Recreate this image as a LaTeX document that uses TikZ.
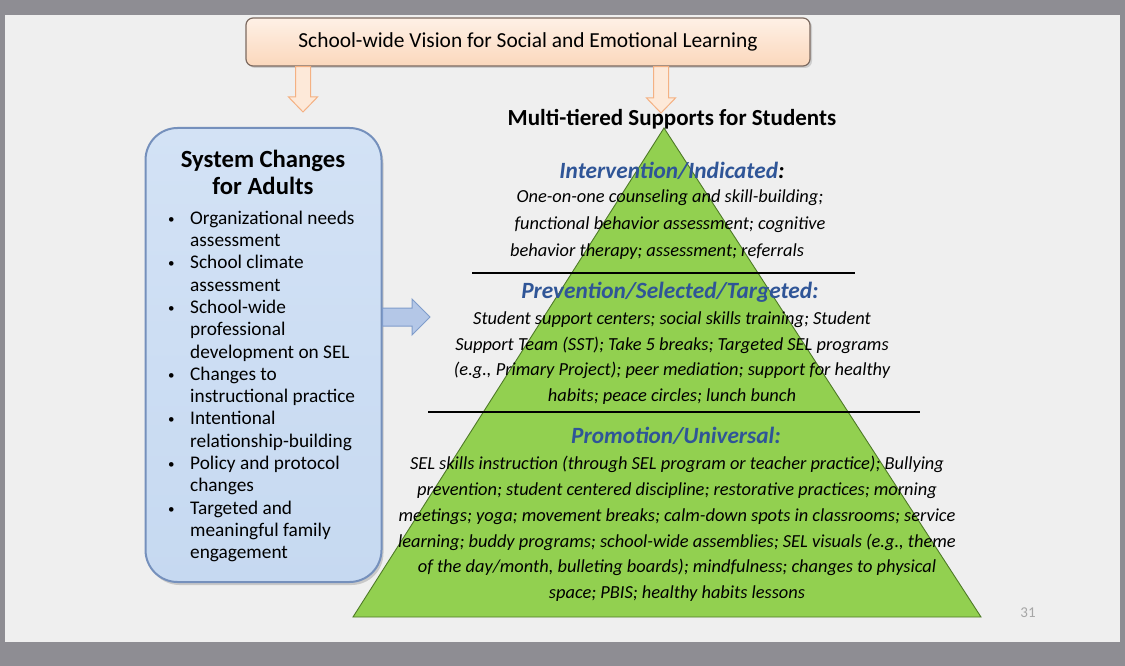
\documentclass[tikz,border=0pt]{standalone}
\usepackage{fontspec}
\setmainfont{Carlito}
\usetikzlibrary{calc,shadows}

\definecolor{framegray}{HTML}{8E8D93}
\definecolor{slidegray}{HTML}{EFEFEF}
\definecolor{peachtop}{HTML}{FEF0E6}
\definecolor{peachbot}{HTML}{FBD8BC}
\definecolor{visionedge}{HTML}{7C6A60}
\definecolor{arroworange}{HTML}{F4B183}
\definecolor{arrowpeach}{HTML}{FDE9D9}
\definecolor{boxblue}{HTML}{C6D9F1}
\definecolor{boxbluetop}{HTML}{D3E2F5}
\definecolor{boxedge}{HTML}{7590BC}
\definecolor{arrowblue}{HTML}{B4C7E7}
\definecolor{arrowblueedge}{HTML}{7F9CCB}
\definecolor{pyrgreen}{HTML}{92D050}
\definecolor{pyredge}{HTML}{4E7A27}
\definecolor{headblue}{HTML}{2F5597}

% fat block arrows: start point, tip
\newcommand{\fatdown}[3][]{%
  \draw[#1] ($(#2)+(-7.5,0)$) -- ($(#3)+(-7.5,-15)$) -- ($(#3)+(-14.5,-15)$) -- (#3)
    -- ($(#3)+(14.5,-15)$) -- ($(#3)+(7.5,-15)$) -- ($(#2)+(7.5,0)$) -- cycle;}
\newcommand{\fatright}[3][]{%
  \draw[#1] ($(#2)+(0,-9)$) -- ($(#3)+(-18,-9)$) -- ($(#3)+(-18,-18)$) -- (#3)
    -- ($(#3)+(-18,18)$) -- ($(#3)+(-18,9)$) -- ($(#2)+(0,9)$) -- cycle;}
\newcommand{\smallbullet}{\raisebox{1pt}{\fontsize{13}{13}\selectfont\textbullet}}

\tikzset{
  visionbox/.style={draw=visionedge, line width=1.2pt, rounded corners=7pt,
    top color=peachtop, bottom color=peachbot, minimum width=564, minimum height=48,
    font=\fontsize{21.4}{25}\selectfont,
    drop shadow={opacity=0.3, shadow xshift=2pt, shadow yshift=-2pt}},
  peacharrow/.style={draw=arroworange, fill=arrowpeach, line width=1pt, line join=miter},
  adultbox/.style={draw=boxedge, line width=2pt, rounded corners=32pt,
    top color=boxbluetop, bottom color=boxblue, minimum width=236, minimum height=454,
    drop shadow={opacity=0.35, shadow xshift=2pt, shadow yshift=-3pt}},
  bluearrow/.style={draw=arrowblueedge, fill=arrowblue, line width=1pt, line join=miter},
  pyramid/.style={fill=pyrgreen, draw=pyredge, line width=0.9pt, line join=miter},
  divider/.style={line width=2.4pt},
  headtext/.style={font=\fontsize{23.3}{27}\selectfont\bfseries\itshape, text=headblue, inner sep=0pt},
  bodytext/.style={font=\fontsize{18.4}{25.7}\selectfont\itshape, align=center, inner sep=0pt},
}

\begin{document}
\begin{tikzpicture}[x=1pt, y=-1pt]
  \useasboundingbox (0,0) rectangle (1125,666);
  \fill[framegray] (0,0) rectangle (1125,666);
  \fill[slidegray] (5,15) rectangle (1120,642);

  % top box and arrows down
  \node[visionbox] (vision) at (528,42) {School-wide Vision for Social and Emotional Learning};
  \node[font=\fontsize{23}{27}\selectfont\bfseries, inner sep=0pt] (tiers) at (672,119) {Multi-tiered Supports for Students};
  \coordinate (lefts) at (vision.south -| 303,0);
  \coordinate (leftt) at (303,112);
  \coordinate (rights) at (vision.south -| 661,0);
  \coordinate (rightt) at (661,113);
  \fatdown[peacharrow]{lefts}{leftt}
  \fatdown[peacharrow]{rights}{rightt}

  % adults box
  \node[adultbox] (adults) at (263.5,355) {};
  \node[font=\fontsize{24.7}{27}\selectfont\bfseries, align=center, inner sep=0pt] (adtitle) at (263,172.5) {System Changes\\for Adults};
  \node[font=\fontsize{19.3}{22.3}\selectfont, inner sep=0pt, anchor=west] (adlist) at (168,387) {%
    \begin{tabular}{@{}l@{}l@{}}
      \makebox[22pt][l]{\smallbullet} & Organizational needs\\
      & assessment\\
      \smallbullet & School climate\\
      & assessment\\
      \smallbullet & School-wide\\
      & professional\\
      & development on SEL\\
      \smallbullet & Changes to\\
      & instructional practice\\
      \smallbullet & Intentional\\
      & relationship-building\\
      \smallbullet & Policy and protocol\\
      & changes\\
      \smallbullet & Targeted and\\
      & meaningful family\\
      & engagement
    \end{tabular}};
  \coordinate (bluestart) at (adults.east |- 0,317);
  \coordinate (bluetip) at (430,317);
  \fatright[bluearrow]{bluestart}{bluetip}

  % pyramid
  \coordinate (apex) at (664,128);
  \coordinate (baser) at (981,617);
  \coordinate (basel) at (353,617);
  \path[pyramid] (apex) -- (baser) -- (basel) -- cycle;
  \draw[divider] (472,273) -- (855,273);
  \draw[divider] (428,412) -- (920,412);

  \node[headtext] (indicated) at (672,171) {Intervention/Indicated\textcolor{black}{:}};
  \node[bodytext, font=\fontsize{18.4}{27}\selectfont\itshape] (indbody) at (670,224.5) {One-on-one counseling and skill-building;\\
    functional behavior assessment; cognitive\\
    behavior therapy; assessment; referrals\rule{26pt}{0pt}};
  \node[headtext] (targeted) at (670,292) {Prevention/Selected/Targeted:};
  \node[bodytext] (tarbody) at (672,358) {Student support centers; social skills training; Student\\
    Support Team (SST); Take 5 breaks; Targeted SEL programs\\
    (e.g., Primary Project); peer mediation; support for healthy\\
    habits; peace circles; lunch bunch};
  \node[headtext] (universal) at (676,436) {Promotion/Universal:};
  \node[bodytext] (unibody) at (677,529) {SEL skills instruction (through SEL program or teacher practice); Bullying\\
    prevention; student centered discipline; restorative practices; morning\\
    meetings; yoga; movement breaks; calm-down spots in classrooms; service\\
    learning; buddy programs; school-wide assemblies; SEL visuals (e.g., theme\\
    of the day/month, bulleting boards); mindfulness; changes to physical\\
    space; PBIS; healthy habits lessons};

  \node[font=\fontsize{15}{17}\selectfont, text=black!35, inner sep=0pt] (pagenum) at (1028,613) {31};
\end{tikzpicture}
\end{document}
